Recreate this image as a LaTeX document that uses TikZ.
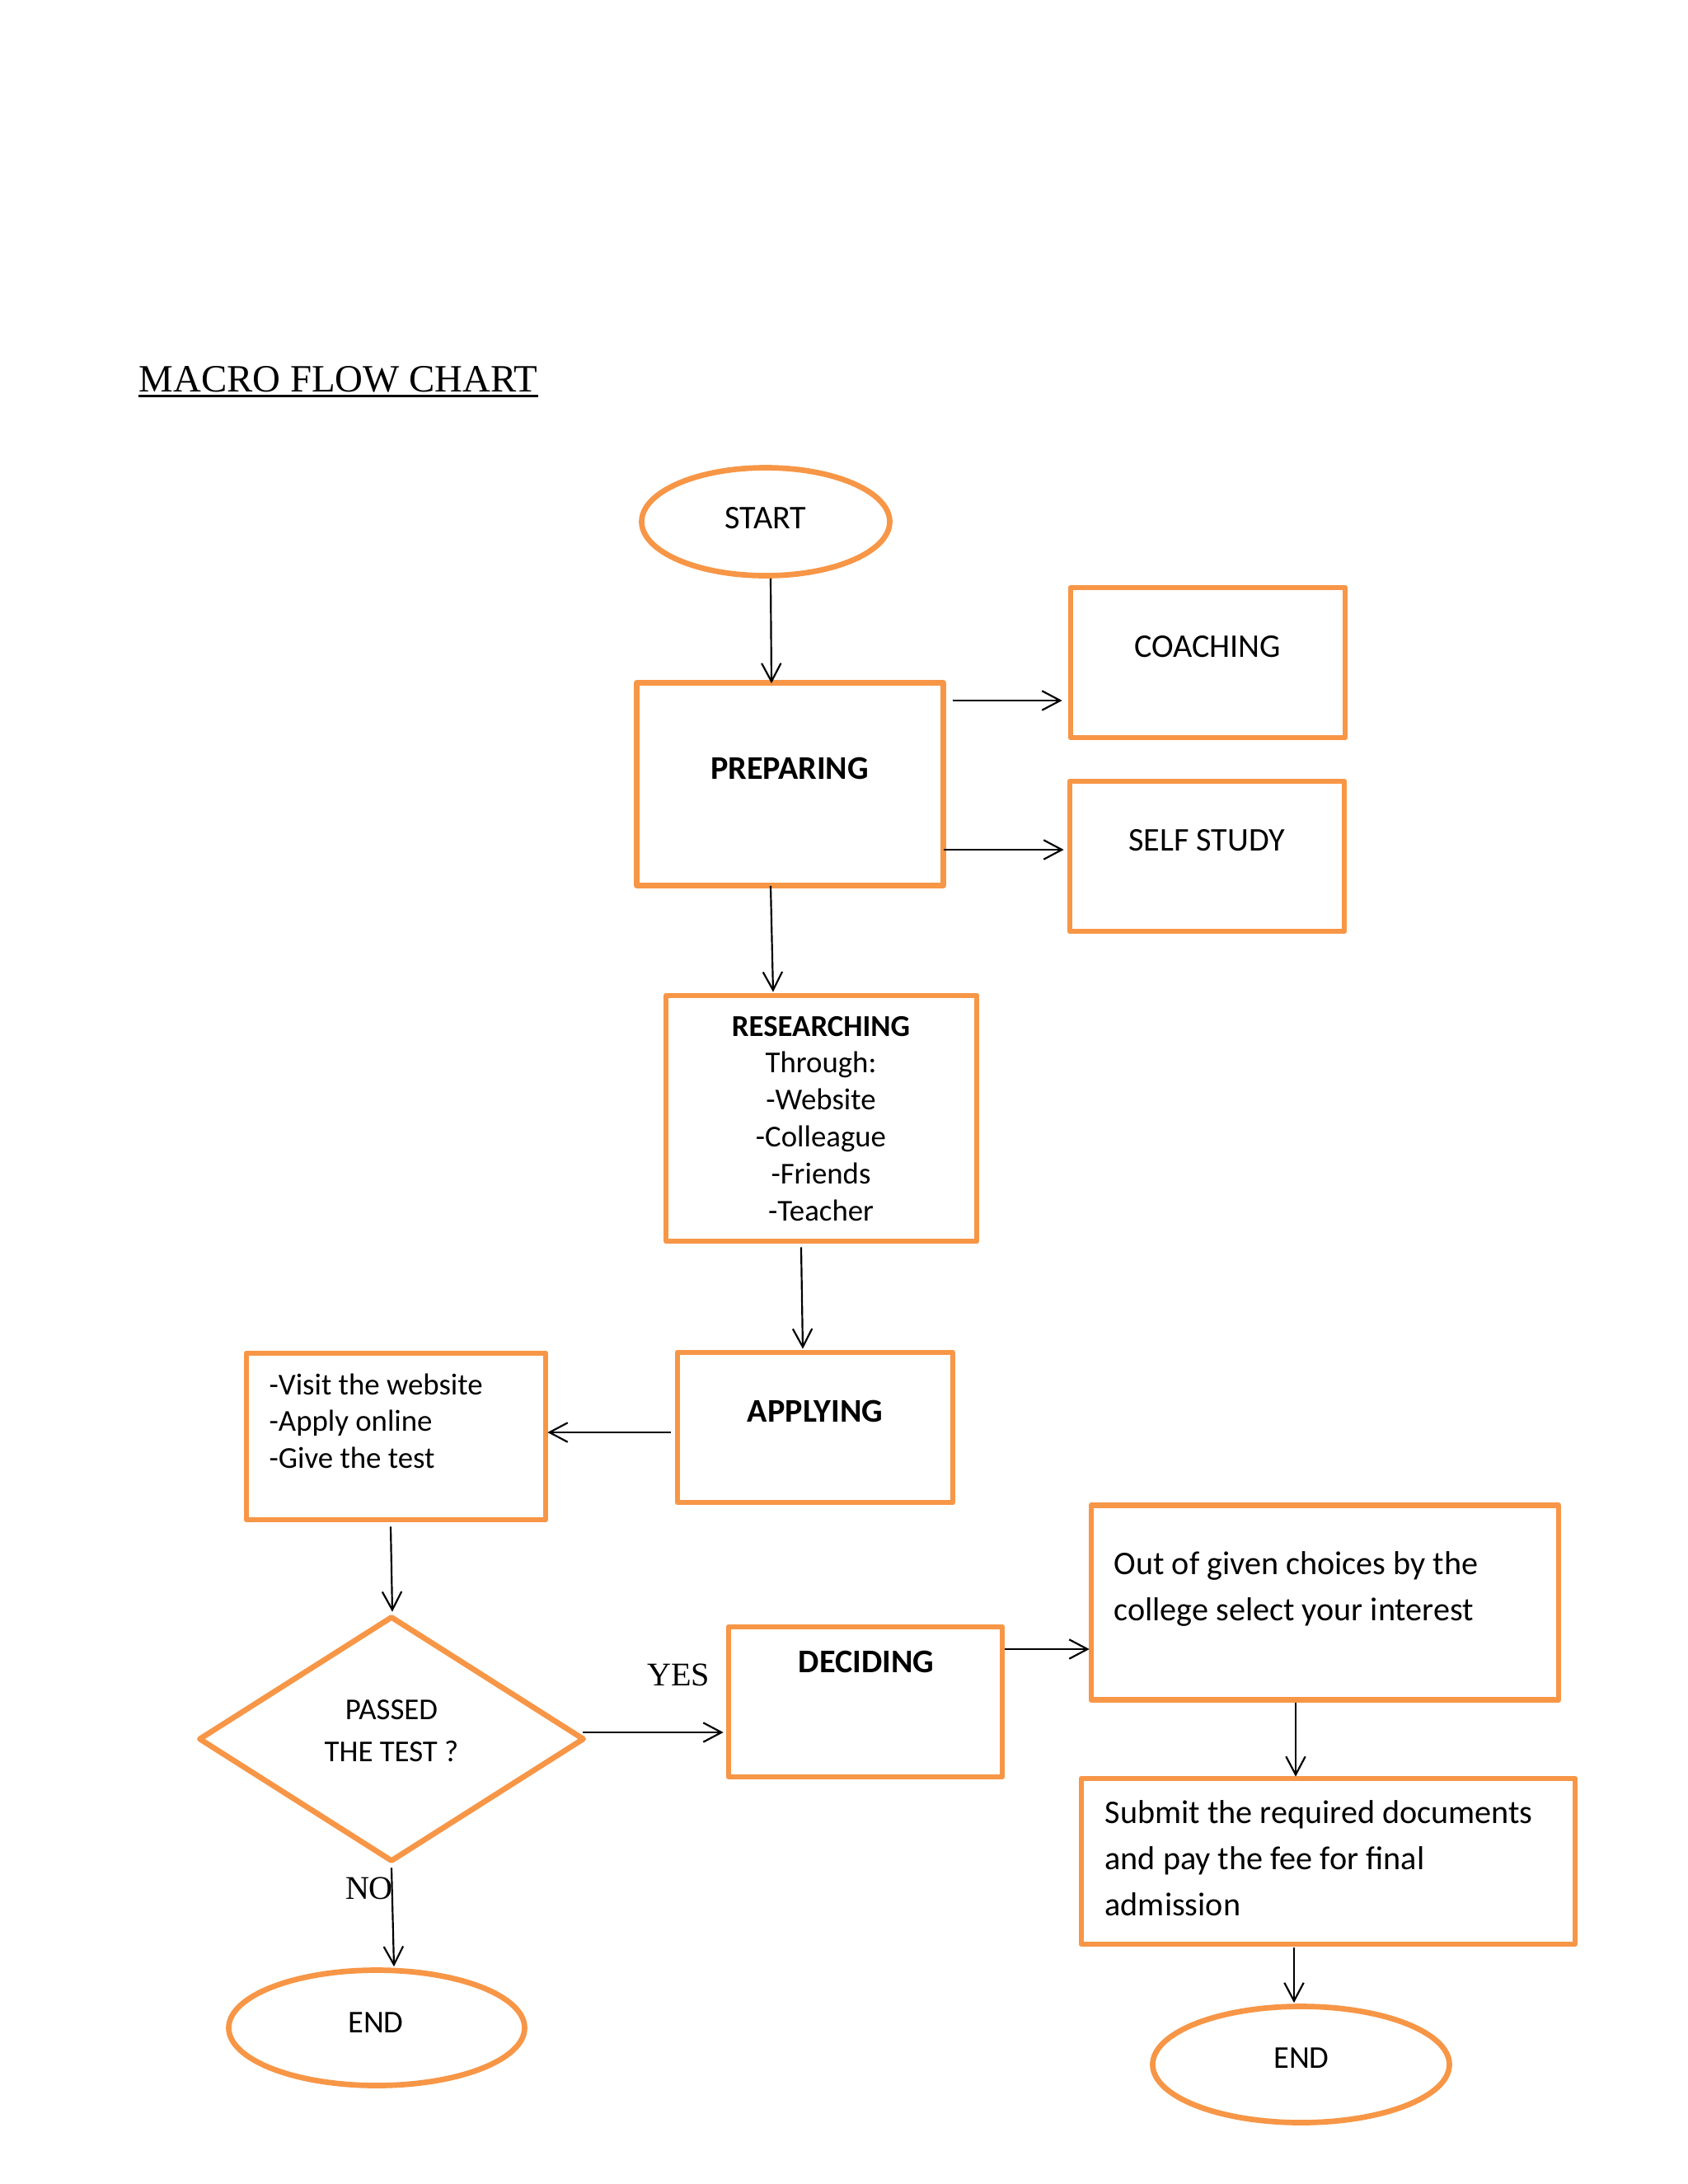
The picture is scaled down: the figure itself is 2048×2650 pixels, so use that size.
\documentclass[tikz,border=0pt]{standalone}
\usepackage{fontspec}
\setmainfont{Carlito}
\newfontfamily\timesf{Liberation Serif}
\usetikzlibrary{arrows.meta,calc,shapes.geometric}
\definecolor{orbox}{RGB}{247,150,70}
\begin{document}
\begin{tikzpicture}[x=0.29883pt,y=-0.29883pt,
  sz/.style 2 args={minimum width={#1*0.29883pt}, minimum height={#2*0.29883pt}},
  box/.style={rectangle, draw=orbox, line width=2pt, line join=round, inner sep=0pt},
  ell/.style={ellipse, draw=orbox, line width=2pt, inner sep=0pt},
  dia/.style={diamond, draw=orbox, line width=2pt, line join=round, inner sep=0pt},
  txt/.style={inner sep=0pt, anchor=base, text=black},
  txtl/.style={inner sep=0pt, anchor=base west, text=black},
  f11/.style={font=\fontsize{11}{13.4}\selectfont},
  f11b/.style={font=\fontsize{11.5}{14}\selectfont},
  f12/.style={font=\fontsize{12}{16.8}\selectfont},
  f12b/.style={font=\fontsize{12}{16.8}\selectfont\bfseries},
  ftm/.style={font=\timesf\fontsize{12}{14}\selectfont},
  arr/.style={draw=black, line width=0.65pt, -{Straight Barb[length=6.6pt,width=7pt]}}
]
\useasboundingbox (0,0) rectangle (2048,2650);
\fill[white] (0,0) rectangle (2048,2650);

% title
\node[txtl, font=\timesf\fontsize{14}{16}\selectfont] (title) at (168,475) {MACRO FLOW CHART};
\draw[line width=0.9pt] ($(title.base west)+(0,5)$) -- ($(title.base east)+(0,5)$);

% shapes
\node[ell, sz={301}{131}] (start) at (929,633) {};
\node[box, sz={372}{246}] (prep) at (958.5,951.5) {};
\node[box, sz={333}{182}] (coach) at (1465.5,804) {};
\node[box, sz={333}{182}] (self) at (1464.5,1039) {};
\node[box, sz={377}{298}] (research) at (996.5,1357) {};
\node[box, sz={334}{182}] (apply) at (989,1732) {};
\node[box, sz={363}{202}] (visit) at (480.5,1743) {};
\node[dia, sz={468}{298}] (test) at (475,2110) {};
\node[box, sz={332}{182}] (decide) at (1050,2065) {};
\node[box, sz={567}{236}] (out) at (1607.5,1944.5) {};
\node[box, sz={599}{201}] (submit) at (1611.5,2258.5) {};
\node[ell, sz={359}{140}] (endA) at (457,2460.5) {};
\node[ell, sz={360}{141}] (endB) at (1578.5,2505) {};

% texts
\node[txt, f12] (tstart) at (929,641) {START};
\node[txt, f12b] (tprep) at (958,945) {PREPARING};
\node[txt, f12] (tcoach) at (1465,797) {COACHING};
\node[txt, f12] (tself) at (1464,1032) {SELF STUDY};
\node[txt, f11] (tresearch) at (996,1257) {\begin{tabular}[t]{@{}c@{}}\textbf{RESEARCHING}\\Through:\\-Website\\-Colleague\\-Friends\\-Teacher\end{tabular}};
\node[txt, f12b] (tapply) at (989,1725) {APPLYING};
\node[txtl, f11] (tvisit) at (326,1692) {\begin{tabular}[t]{@{}l@{}}-Visit the website\\-Apply online\\-Give the test\end{tabular}};
\node[txt, font=\fontsize{11}{15.4}\selectfont] (ttest) at (475,2086) {\begin{tabular}[t]{@{}c@{}}PASSED\\THE TEST ?\end{tabular}};
\node[txt, f12b] (tdecide) at (1051,2029) {DECIDING};
\node[txtl, f12] (tout) at (1351,1910) {\begin{tabular}[t]{@{}l@{}}Out of given choices by the\\college select your interest\end{tabular}};
\node[txtl, f12] (tsubmit) at (1340,2212) {\begin{tabular}[t]{@{}l@{}}Submit the required documents\\and pay the fee for final\\admission\end{tabular}};
\node[txt, f11b] (tendA) at (456,2466) {END};
\node[txt, f11b] (tendB) at (1579,2509) {END};
\node[txt, ftm] (yes) at (823,2045) {YES};
\node[txt, ftm] (no) at (448,2304) {NO};

% connectors
\draw[arr] ($(start.south)+(6,0)$) -- ($(prep.north)+(-22.5,4)$);
\draw[arr] ($(prep.east)+(8,-101.5)$) -- ($(coach.west)+(-7,46)$);
\draw[arr] ($(prep.east)+(-3,79.5)$) -- ($(self.west)+(-4,-8)$);
\draw[arr] ($(prep.south)+(-23.5,-3)$) -- ($(research.north)+(-58.5,-1)$);
\draw[arr] ($(research.south)+(-24.5,4)$) -- ($(apply.north)+(-15,-1)$);
\draw[arr] ($(apply.west)+(-5,6)$) -- ($(visit.east)+(-1,-5)$);
\draw[arr] ($(visit.south)+(-6.5,5)$) -- ($(test.north)+(1,-2)$);
\draw[arr] ($(test.east)+(-5,-8)$) -- ($(decide.west)+(-3,37)$);
\draw[arr] ($(test.south)+(0,4)$) -- ($(endA.north)+(21,-1)$);
\draw[arr] ($(decide.east)+(0,-64)$) -- ($(out.west)+(1,56.5)$);
\draw[arr] ($(out.south)+(-35.5,0)$) -- ($(submit.north)+(-39.5,1)$);
\draw[arr] ($(submit.south)+(-41.5,1)$) -- ($(endB.north)+(-8.5,-1)$);
\end{tikzpicture}
\end{document}
